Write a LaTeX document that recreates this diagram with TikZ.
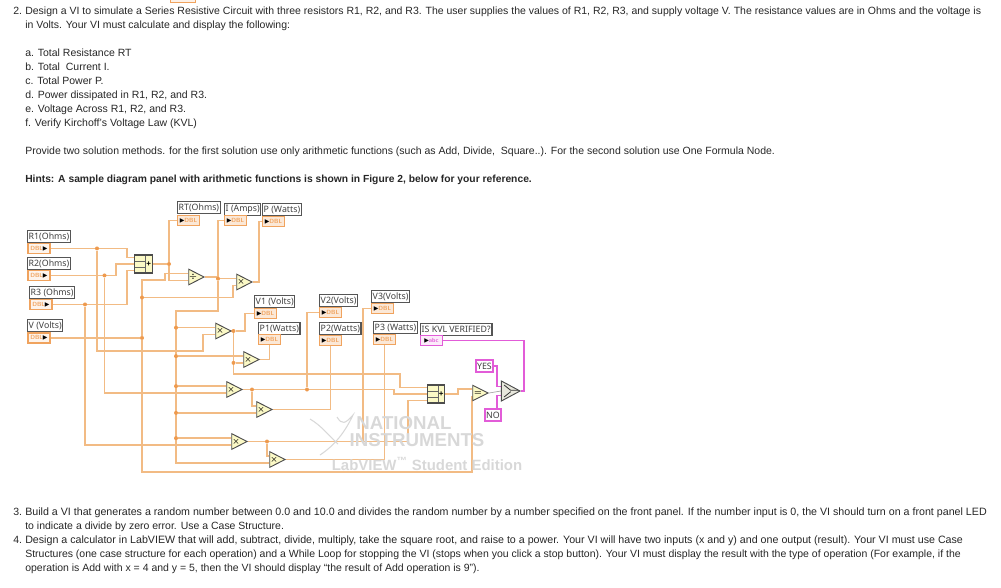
\documentclass[tikz,border=0pt]{standalone}
\usepackage{fontspec}
\setmainfont{Liberation Sans}
\newfontfamily\lvfont{Noto Sans}
\newfontfamily\symfont{DejaVu Sans}
\usetikzlibrary{shapes.geometric,backgrounds}
\definecolor{wireor}{HTML}{F2BB84}
\definecolor{dotor}{HTML}{EE9A4E}
\definecolor{termor}{HTML}{F0A35E}
\definecolor{cream}{HTML}{FBF9C6}
\definecolor{pinkw}{HTML}{E25CD8}
\definecolor{lblgray}{HTML}{555555}
\definecolor{markgray}{HTML}{D8D8D8}
\newcommand{\tip}{\textcolor{black}{\symfont\fontsize{4.5}{4.5}\selectfont ▶}}
\begin{document}
\begin{tikzpicture}[x=0.75pt,y=-0.75pt,>=stealth,
    txt/.style={anchor=base west,inner sep=0pt,font=\fontsize{7.87}{10}\selectfont,text=black!85},
    wide/.style={txt,font=\fontsize{8}{10}\selectfont},
    lbl/.style={draw=lblgray,line width=1pt,fill=white,anchor=north west,inner sep=0.8pt,minimum height=9pt,font=\lvfont\fontsize{6.6}{7}\selectfont,text=black!75},
    ctl/.style={draw=termor,line width=1.4pt,fill=termor!12,anchor=north west,inner sep=0pt,minimum width=16.5pt,minimum height=7.5pt,font=\sffamily\bfseries\fontsize{4.5}{4.5}\selectfont,text=termor},
    ind/.style={ctl,line width=0.7pt,fill=termor!25},
    tri/.style={isosceles triangle,isosceles triangle apex angle=60,isosceles triangle stretches,draw=black!70,line width=0.7pt,fill=cream,inner sep=0pt,minimum width=11.5pt,minimum height=11.5pt,anchor=apex,font=\fontsize{4.6}{5}\selectfont\boldmath},
    compound/.style={rectangle,draw=black!70,line width=0.8pt,fill=cream,minimum width=13pt,minimum height=13.5pt,inner sep=0pt,font=\fontsize{6}{6}\selectfont\bfseries,path picture={
        \draw[black!60,line width=0.5pt] ([xshift=8pt]path picture bounding box.north west) -- ([xshift=8pt]path picture bounding box.south west);
        \draw[black!60,line width=0.5pt] ([yshift=-4.5pt]path picture bounding box.north west) -- ++(8pt,0);
        \draw[black!60,line width=0.5pt] ([yshift=4.5pt]path picture bounding box.south west) -- ++(8pt,0);}},
    dot/.style={circle,fill=dotor,inner sep=0pt,minimum size=3pt},
    wire/.style={wireor,line width=1pt},
    pwire/.style={pinkw,line width=1pt},
    pink/.style={draw=pinkw,line width=1.5pt,fill=white,anchor=north west,inner sep=0.8pt,minimum height=9pt,font=\lvfont\fontsize{6.6}{7}\selectfont,text=black!75}]

\useasboundingbox (0,0) rectangle (1001,587);

\node[draw=termor,fill=termor!15,minimum width=19pt,minimum height=4pt,inner sep=0pt] (stub) at (183,0) {};

\node[txt] (numtwo) at (13,14) {2.};
\node[txt] (linea) at (25,14) {Design a VI to simulate a Series Resistive Circuit with three resistors R1, R2, and R3. The user supplies the values of R1, R2, R3, and supply voltage V. The resistance values are in Ohms and the voltage is};
\node[txt] (lineb) at (25,28) {in Volts. Your VI must calculate and display the following:};
\node[txt] (lista) at (25,56) {a. Total Resistance RT};
\node[txt] (listb) at (25,70) {b. Total\ \ Current I.};
\node[txt] (listc) at (25,84) {c. Total Power P.};
\node[txt] (listd) at (25,98) {d. Power dissipated in R1, R2, and R3.};
\node[txt] (liste) at (25,112) {e. Voltage Across R1, R2, and R3.};
\node[txt] (listf) at (25,126) {f. Verify Kirchoff's Voltage Law (KVL)};
\node[txt] (provide) at (25,154) {Provide two solution methods. for the first solution use only arithmetic functions (such as Add, Divide,\ \ Square..). For the second solution use One Formula Node.};
\node[txt,font=\fontsize{7.72}{10}\selectfont\bfseries] (hints) at (25,182) {Hints: A sample diagram panel with arithmetic functions is shown in Figure 2, below for your reference.};
\node[txt] (numthree) at (13,515) {3.};
\node[wide] (linec) at (25,515) {Build a VI that generates a random number between 0.0 and 10.0 and divides the random number by a number specified on the front panel. If the number input is 0, the VI should turn on a front panel LED};
\node[txt] (lined) at (25,529) {to indicate a divide by zero error. Use a Case Structure.};
\node[txt] (numfour) at (13,543) {4.};
\node[wide] (linee) at (25,543) {Design a calculator in LabVIEW that will add, subtract, divide, multiply, take the square root, and raise to a power. Your VI will have two inputs (x and y) and one output (result). Your VI must use Case};
\node[txt] (linef) at (25,557) {Structures (one case structure for each operation) and a While Loop for stopping the VI (stops when you click a stop button). Your VI must display the result with the type of operation (For example, if the};
\node[txt] (lineg) at (25,571) {operation is Add with x = 4 and y = 5, then the VI should display “the result of Add operation is 9”).};

\node[lbl] (lRone) at (27,230) {R1(Ohms)};
\node[ctl] (tRone) at (27,242.5) {DBL\tip};
\node[lbl] (lRtwo) at (27,257) {R2(Ohms)};
\node[ctl] (tRtwo) at (27,269.5) {DBL\tip};
\node[lbl] (lRthree) at (29,286) {R3 (Ohms)};
\node[ctl] (tRthree) at (29,298.5) {DBL\tip};
\node[lbl] (lV) at (27,319) {V (Volts)};
\node[ctl] (tV) at (27,332) {DBL\tip};

\node[lbl] (lRT) at (177,201) {RT(Ohms)};
\node[ind] (tRT) at (177,215) {\tip DBL};
\node[lbl] (lI) at (224,203) {I (Amps)};
\node[ind] (tI) at (224,215) {\tip DBL};
\node[lbl] (lP) at (262,203) {P (Watts)};
\node[ind] (tP) at (262,216) {\tip DBL};
\node[lbl] (lVone) at (254,295) {V1 (Volts)};
\node[ind] (tVone) at (254,308) {\tip DBL};
\node[lbl] (lPone) at (258,322) {P1(Watts)};
\node[ind] (tPone) at (258,334) {\tip DBL};
\node[lbl] (lVtwo) at (319,294) {V2(Volts)};
\node[ind] (tVtwo) at (319,307) {\tip DBL};
\node[lbl] (lPtwo) at (319,322) {P2(Watts)};
\node[ind] (tPtwo) at (319,335) {\tip DBL};
\node[lbl] (lVthree) at (371,290) {V3(Volts)};
\node[ind] (tVthree) at (371,303) {\tip DBL};
\node[lbl] (lPthree) at (373,321) {P3 (Watts)};
\node[ind] (tPthree) at (373,334) {\tip DBL};
\node[lbl] (lKVL) at (420,323) {IS KVL VERIFIED?};
\node[ind,draw=pinkw,fill=pinkw!12,text=pinkw] (tKVL) at (420,335) {\tip abc};
\node[pink] (cYes) at (475,359) {YES};
\node[pink] (cNo) at (484,408) {NO};

\node[compound] (aRT) at (143.5,264) {\hspace{8pt}+};
\node[compound] (aKVL) at (436,394) {\hspace{8pt}+};
\node[tri] (mDiv) at (205,277) {$\div$};
\node[tri] (mP) at (253,282) {$\times$};
\node[tri] (mA) at (232,331) {$\times$};
\node[tri] (mB) at (260,359.5) {$\times$};
\node[tri] (mC) at (243,389.5) {$\times$};
\node[tri] (mD) at (273,409.5) {$\times$};
\node[tri] (mE) at (248,441.5) {$\times$};
\node[tri] (mF) at (286,459.5) {$\times$};
\node[tri] (eq) at (489,393) {$=$};
\node[tri,minimum width=15pt,minimum height=14pt,fill=cream!70!black!30,path picture={
    \draw[black!80,line width=0.6pt] (path picture bounding box.north west) ++(2pt,-3pt) -- ++(5pt,-4pt) -- ++(7pt,0);
    \draw[black!80,line width=0.6pt] (path picture bounding box.south west) ++(2pt,3pt) -- ++(5pt,4pt);}] (sel) at (521,391) {};

\node[dot] (jRone) at (97,0 |- tRone.east) {};
\node[dot] (jRtwo) at (104.5,0 |- tRtwo.east) {};
\node[dot] (jRthree) at (85,0 |- tRthree.east) {};
\node[dot] (jVa) at (142,0 |- tV.east) {};
\node[dot] (jVb) at (142,297.5) {};
\node[dot] (jRT) at (169,0 |- aRT.east) {};
\node[dot] (jI) at (218,0 |- mP.145) {};
\node[dot] (jIa) at (176,0 |- mA.145) {};
\node[dot] (jIb) at (176,0 |- mB.145) {};
\node[dot] (jIc) at (176,0 |- mC.145) {};
\node[dot] (jId) at (176,0 |- mD.215) {};
\node[dot] (jIe) at (176,0 |- mE.145) {};
\node[dot] (jA) at (233.5,0 |- mA.apex) {};
\node[dot] (jAb) at (233.5,0 |- mB.215) {};
\node[dot] (jC) at (252,0 |- mC.apex) {};
\node[dot] (jCb) at (307,0 |- mC.apex) {};
\node[dot] (jE) at (267,0 |- mE.apex) {};
\coordinate (jEb) at (363,0 |- mE.apex);

\begin{scope}[on background layer]
\draw[wire] (tRone.east) -| (127,252) |- (aRT.145);
\draw[wire] (tRtwo.east) -| (116,270) |- (aRT.180);
\draw[wire] (tRthree.east) -| (127,290) |- (aRT.215);
\draw[wire] (tV.east) -- (jVa);
\draw[wire] (aRT.east) -- (jRT);
\draw[wire] (jRT) |- (tRT.west);
\draw[wire] (jRT) |- (mDiv.215);
\draw[wire] (jVa) |- (165,280) |- (mDiv.145);
\draw[wire] (jVb) -| (233,292) |- (mP.215);
\draw[wire] (jVa) -- (142,472) -| (472,410) |- (eq.215);
\draw[wire] (mDiv.apex) -| (jI);
\draw[wire] (jI) -- (mP.145);
\draw[wire] (jI) |- (tI.west);
\draw[wire] (mP.apex) -| (259,240) |- (tP.west);
\draw[wire] (jI) |- (176,311) |- (mF.215);
\draw[wire] (jIa) -- (mA.145);
\draw[wire] (jIb) -- (mB.145);
\draw[wire] (jIc) -- (mC.145);
\draw[wire] (jId) -- (mD.215);
\draw[wire] (jIe) -- (mE.145);
\draw[wire] (jRone) -- (97,351) -| (203,340) |- (mA.215);
\draw[wire] (jRtwo) |- (mC.215);
\draw[wire] (jRthree) |- (mE.215);
\draw[wire] (mA.apex) -- (jA);
\draw[wire] (jA) -| (245,320) |- (tVone.west);
\draw[wire] (jA) |- (400,374) |- (aKVL.145);
\draw[wire] (jAb) -- (mB.215);
\draw[wire] (mB.apex) -| (tPone.south);
\draw[wire] (mC.apex) -- (jC) -- (jCb);
\draw[wire] (jCb) -| (394,392) |- (aKVL.180);
\draw[wire] (jCb) |- (tVtwo.west);
\draw[wire] (jC) |- (mD.145);
\draw[wire] (mD.apex) -| (tPtwo.south);
\draw[wire] (mE.apex) -- (jE) -- (jEb);
\draw[wire] (jEb) -| (408,420) |- (aKVL.215);
\draw[wire] (jEb) |- (tVthree.west);
\draw[wire] (jE) |- (mF.145);
\draw[wire] (mF.apex) -| (tPthree.south);
\draw[wire] (aKVL.east) -| (458,391) |- (eq.145);
\draw[black!35,line width=0.5pt] (eq.apex) -- (sel.west);
\draw[pwire] (cYes.east) -| (497,375) |- (sel.145);
\draw[pwire] ([xshift=3pt]cNo.north) |- (sel.215);
\draw[pwire] (sel.apex) -| (524,360) |- (tKVL.east);
\end{scope}

\draw[markgray,line width=0.8pt] (310,419) .. controls (322,426) and (330,437) .. (338,444);
\draw[markgray,line width=0.8pt] (337,417) .. controls (342,425) and (345,424) .. (353,415) .. controls (345,432) and (335,445) .. (320,455);
\node[font=\fontsize{14}{14}\selectfont\bfseries,text=markgray,inner sep=0pt] (markna) at (404,423) {NATIONAL};
\node[font=\fontsize{14}{14}\selectfont\bfseries,text=markgray,inner sep=0pt] (markin) at (417,440) {INSTRUMENTS};
\node[font=\fontsize{11.2}{12}\selectfont\bfseries,text=markgray,inner sep=0pt] (marklv) at (427,464) {LabVIEW\textsuperscript{™} Student Edition};
\end{tikzpicture}
\end{document}
